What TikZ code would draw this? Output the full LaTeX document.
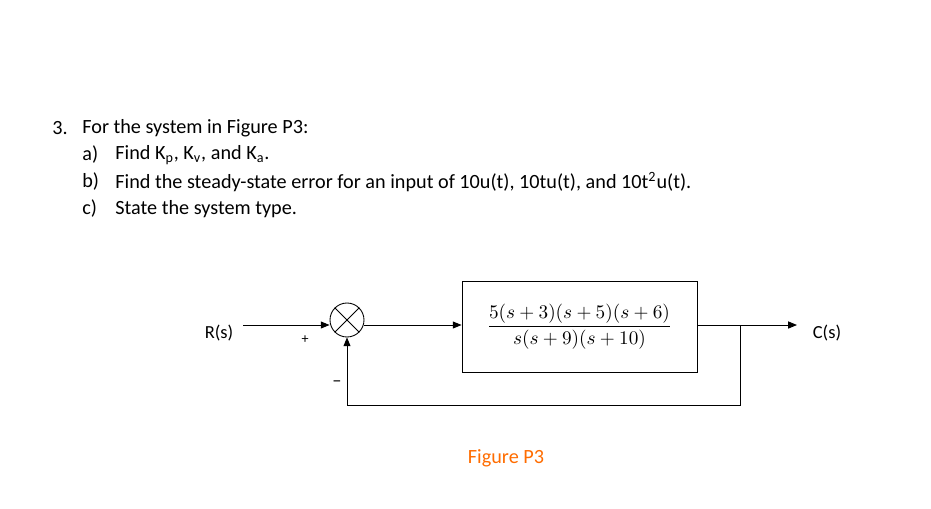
\documentclass[tikz,border=0pt]{standalone}
\usepackage{fontspec}
\setmainfont{Carlito}
\usetikzlibrary{arrows.meta}
\begin{document}
\begin{tikzpicture}[x=0.02cm,y=-0.02cm,
  txt/.style={anchor=west,inner sep=0,font=\fontsize{11.5}{13}\selectfont},
  lbl/.style={inner sep=0,font=\fontsize{10.5}{12}\selectfont},
  ln/.style={line width=0.5pt},
  arr/.style={ln,-{Triangle[length=5pt,width=4pt]}}]
\useasboundingbox (0,0) rectangle (931,508);
\node[txt] (n3) at (52,128) {3.};
\node[txt] (t0) at (82,128) {For the system in Figure P3:};
\node[txt] (la) at (82,155) {a)};
\node[txt] (ta) at (115,155) {Find K\textsubscript{p}, K\textsubscript{v}, and K\textsubscript{a}.};
\node[txt] (lb) at (82,182) {b)};
\node[txt] (tb) at (115,182) {Find the steady-state error for an input of 10u(t), 10tu(t), and 10t\textsuperscript{2}u(t).};
\node[txt] (lc) at (82,209) {c)};
\node[txt] (tc) at (115,209) {State the system type.};
\node[lbl] (R) at (219,333) {R(s)};
\coordinate (rin) at (243,325);
\node[draw,ln,circle,minimum size=34*0.02cm,inner sep=0] (sum) at (347,320) {};
\draw[ln] (sum.north west)--(sum.south east) (sum.north east)--(sum.south west);
\node[draw,ln,minimum width=235*0.02cm,minimum height=91*0.02cm,inner sep=0,font=\fontsize{11.3}{13}\selectfont] (G) at (579.5,326.5)
  {$\displaystyle\frac{5(s+3)(s+5)(s+6)}{s(s+9)(s+10)}$};
\node[lbl] (C) at (827,333) {C(s)};
\coordinate (cout) at (797,325);
\coordinate (tap) at (740,325);
\coordinate (fb1) at (740,405);
\coordinate (fb2) at (347,405);
\node[lbl,font=\fontsize{8}{9}\selectfont] (plus) at (305,340) {+};
\node[lbl] (minus) at (337,384) {--};
\draw[arr] (rin) -- (sum.west |- rin);
\draw[arr] (sum.east |- rin) -- (G.west |- rin);
\draw[arr] (G.east |- rin) -- (cout);
\draw[arr] (tap) -- (fb1) -- (fb2) -- (sum.south);
\node[lbl,text=orange!85!red,font=\fontsize{11.5}{13}\selectfont] (fig) at (506,458) {Figure P3};
\end{tikzpicture}
\end{document}
